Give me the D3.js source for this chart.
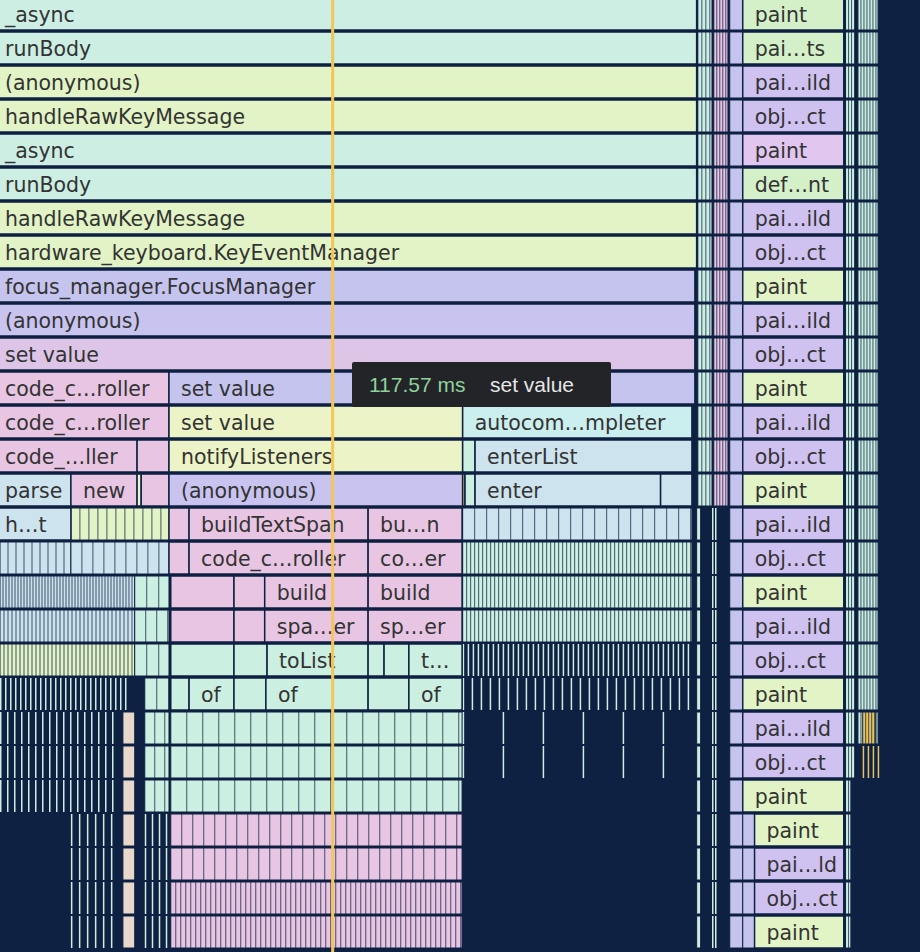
<!DOCTYPE html>
<html><head><meta charset="utf-8">
<script src="https://cdn.jsdelivr.net/npm/d3@7"></script>
<style>body{margin:0;background:#0f2142;overflow:hidden}</style>
</head><body><div id="canvas"></div>
<script>
// flame chart, times in ms, rows = stack depth
const rowCount = 28;
const visibleMs = [0, 155.7];
const cursorMs = 56.3;
const tooltipMs = 117.57;
const tooltipName = "set value";

const palette = {
  teal: "#cdeee3", ygreen: "#e2f3c5", lav: "#c9c4ef", lavb: "#c4c4ee", mauve: "#dcc5e6",
  pink: "#e8c6e3", yellow: "#ecf3c6", cyan: "#cbeeee", blue: "#cde3ee", mint: "#cbefe0",
  gold: "#e6c25e", green: "#d4f0c8", purple: "#cfc2f0", ppink: "#e1c6ef", peach: "#e8d8cc"
};

// [row, start, end, colour, label]
const boxes = [
  [0, -1.2, 117.9, "teal", "_async"],
  [1, -1.2, 117.9, "teal", "runBody"],
  [2, -1.2, 117.9, "ygreen", "(anonymous)"],
  [3, -1.2, 117.9, "ygreen", "handleRawKeyMessage"],
  [4, -1.2, 117.9, "teal", "_async"],
  [5, -1.2, 117.9, "teal", "runBody"],
  [6, -1.2, 117.9, "ygreen", "handleRawKeyMessage"],
  [7, -1.2, 117.9, "ygreen", "hardware_keyboard.KeyEventManager"],
  [8, -1.2, 117.6, "lavb", "focus_manager.FocusManager"],
  [9, -1.2, 117.6, "lav", "(anonymous)"],
  [10, -1.2, 117.6, "mauve", "set value"],
  [11, -1.2, 28.6, "pink", "code_c…roller"],
  [11, 28.6, 117.6, "lavb", "set value"],
  [12, -1.2, 28.6, "pink", "code_c…roller"],
  [12, 28.6, 78.3, "yellow", "set value"],
  [12, 78.3, 117.1, "cyan", "autocom…mpleter"],
  [13, -1.2, 23.2, "pink", "code_…ller"],
  [13, 23.2, 28.6, "pink", ""],
  [13, 28.6, 78.3, "yellow", "notifyListeners"],
  [13, 78.3, 80.4, "mint", ""],
  [13, 80.4, 117.1, "blue", "enterList"],
  [14, -1.2, 12.0, "blue", "parse"],
  [14, 12.0, 23.2, "pink", "new"],
  [14, 23.2, 23.9, "yellow", ""],
  [14, 23.9, 28.6, "pink", ""],
  [14, 28.6, 78.3, "lav", "(anonymous)"],
  [14, 78.3, 78.7, "gold", ""],
  [14, 78.7, 80.4, "mint", ""],
  [14, 80.4, 111.8, "blue", "enter"],
  [14, 111.8, 117.1, "blue", ""],
  [15, -1.2, 12.0, "blue", "h…t"],
  [15, 28.6, 32.0, "pink", ""],
  [15, 32.0, 62.3, "pink", "buildTextSpan"],
  [15, 62.3, 78.2, "pink", "bu…n"],
  [16, 28.6, 32.0, "pink", ""],
  [16, 32.0, 62.3, "pink", "code_c…roller"],
  [16, 62.3, 78.2, "pink", "co…er"],
  [17, 28.9, 39.6, "pink", ""],
  [17, 39.6, 44.8, "pink", ""],
  [17, 44.8, 62.3, "pink", "build"],
  [17, 62.3, 78.2, "pink", "build"],
  [18, 28.9, 39.6, "pink", ""],
  [18, 39.6, 44.8, "pink", ""],
  [18, 44.8, 62.3, "pink", "spa…er"],
  [18, 62.3, 78.2, "pink", "sp…er"],
  [19, 28.9, 39.6, "mint", ""],
  [19, 39.6, 45.2, "mint", ""],
  [19, 45.2, 62.3, "mint", "toList"],
  [19, 62.3, 65.0, "mint", ""],
  [19, 65.0, 69.2, "mint", ""],
  [19, 69.2, 78.2, "mint", "t…"],
  [20, 28.9, 32.0, "mint", ""],
  [20, 32.0, 39.6, "mint", "of"],
  [20, 39.6, 45.0, "mint", ""],
  [20, 45.0, 62.3, "mint", "of"],
  [20, 62.3, 69.2, "mint", ""],
  [20, 69.2, 78.2, "mint", "of"]
];

// right-hand column of paint frames
const paintLabels = ["paint", "pai…ts", "pai…ild", "obj…ct", "paint", "def…nt", "pai…ild", "obj…ct",
  "paint", "pai…ild", "obj…ct", "paint", "pai…ild", "obj…ct", "paint", "pai…ild", "obj…ct", "paint",
  "pai…ild", "obj…ct", "paint", "pai…ild", "obj…ct", "paint", "paint", "pai…ld", "obj…ct", "paint"];
const paintColours = ["green", "green", "purple", "purple", "ppink", "green", "purple", "purple",
  "ygreen", "purple", "purple", "ygreen", "purple", "purple", "ygreen", "purple", "purple", "ygreen",
  "purple", "purple", "ygreen", "purple", "purple", "ygreen", "ygreen", "purple", "purple", "ygreen"];
const paintStart = [125.7, 125.7, 125.7, 125.7, 125.7, 125.7, 125.7, 125.7, 125.7, 125.7, 125.7, 125.7,
  125.7, 125.7, 125.7, 125.7, 125.7, 125.7, 125.7, 125.7, 125.7, 125.7, 125.7, 125.7, 127.7, 127.7, 127.7, 127.7];
const paintEnd = 142.8;

// bands of tiny frames: [fromRow, toRow, start, end, colour, pitch px, dense]
const bands = [
  [15, 15, 12.0, 28.6, "ygreen", 9, true],
  [16, 16, 0, 12.0, "blue", 8, true],
  [16, 16, 12.0, 28.6, "blue", 11, true],
  [17, 17, 0, 22.8, "blue", 3, true],
  [17, 17, 22.8, 28.6, "mint", 12, true],
  [18, 18, 0, 22.8, "blue", 4, true],
  [18, 18, 22.8, 28.6, "mint", 11, true],
  [19, 19, 0, 22.8, "ygreen", 4, true],
  [19, 19, 22.8, 28.6, "mint", 12, true],
  [20, 20, 0, 22.0, "mint", 5, false],
  [20, 20, 24.5, 28.6, "mint", 12, true],
  [21, 23, 0, 20.0, "mint", 7, false],
  [21, 27, 20.8, 22.8, "peach", 12, true],
  [21, 23, 24.5, 28.6, "mint", 10, true],
  [24, 27, 12.0, 20.0, "mint", 8, false],
  [24, 27, 24.5, 28.6, "mint", 7, false],
  [21, 23, 28.9, 78.2, "mint", 16, true],
  [24, 25, 28.9, 78.2, "pink", 11, true],
  [26, 27, 28.9, 78.2, "pink", 5, true],
  [15, 15, 78.3, 117.1, "blue", 12, true],
  [16, 18, 78.3, 117.1, "mint", 4, true],
  [19, 19, 78.3, 117.1, "mint", 5, false],
  [20, 20, 78.3, 117.1, "mint", 9, false],
  [21, 22, 78.3, 117.1, "mint", 40, false],
  [0, 14, 118.1, 120.5, "teal", 4, true],
  [15, 27, 117.9, 118.6, "mint", 4, true],
  [0, 14, 120.8, 123.2, "pink", 3, true],
  [15, 27, 120.5, 121.2, "mint", 3, false],
  [0, 27, 123.5, 125.7, "lavb", 20, true],
  [24, 27, 125.7, 127.7, "lavb", 20, true],
  [0, 22, 143.1, 144.7, "mint", 3, true],
  [23, 27, 143.1, 144.0, "mint", 3, true],
  [0, 21, 145.2, 148.6, "mint", 3, true],
  [21, 21, 146.0, 148.2, "gold", 3, true],
  [22, 22, 146.0, 148.6, "gold", 5, false]
];

const width = 920, height = 952, rowH = 34, rowTop = -3;
const dark = "#0f2142";
const x = d3.scaleLinear().domain(visibleMs).range([0, width]);
const y = d3.scaleLinear().domain([0, rowCount]).range([rowTop, rowTop + rowCount * rowH]);

const svg = d3.select("#canvas").append("svg")
  .attr("width", width).attr("height", height)
  .style("font-family", "'DejaVu Sans', sans-serif");

svg.append("rect").attr("width", width).attr("height", height).attr("fill", dark);

// bands of small frames
const bandRows = bands.flatMap(b => d3.range(b[0], b[1] + 1).map(r => ({ row: r, b })));
const bg = svg.append("g");
bandRows.forEach(({ row, b }) => {
  const [, , s, e, col, pitch, dense] = b;
  const x0 = x(s), x1 = x(e);
  const yy = y(row) + 1, hh = rowH - 2;
  if (dense) {
    bg.append("rect").attr("x", x0).attr("y", yy).attr("width", x1 - x0).attr("height", hh)
      .attr("fill", palette[col]).attr("stroke", dark).attr("stroke-width", 1);
    bg.selectAll(null).data(d3.range(x0 + pitch, x1, pitch)).join("line")
      .attr("x1", d => d).attr("x2", d => d).attr("y1", yy).attr("y2", yy + hh)
      .attr("stroke", dark).attr("stroke-width", 1).attr("opacity", 0.75);
  } else {
    bg.selectAll(null).data(d3.range(x0, x1, pitch)).join("rect")
      .attr("x", d => d).attr("y", yy).attr("width", 1.5).attr("height", hh)
      .attr("fill", palette[col]);
  }
});

// named frames
const frames = boxes.map(([row, s, e, c, label]) => ({ row, s, e, c, label }))
  .concat(paintLabels.map((label, i) => ({ row: i, s: paintStart[i], e: paintEnd, c: paintColours[i], label })));

const fg = svg.append("g").selectAll("g").data(frames).join("g");
fg.append("rect")
  .attr("x", d => x(d.s)).attr("y", d => y(d.row) + 1)
  .attr("width", d => x(d.e) - x(d.s)).attr("height", rowH - 2)
  .attr("fill", d => palette[d.c]).attr("stroke", dark).attr("stroke-width", 1.5);
fg.append("text")
  .attr("x", d => Math.max(x(d.s), -7) + 12).attr("y", d => y(d.row) + rowH / 2 + 1)
  .attr("dy", "0.35em").attr("font-size", 20.5).attr("fill", "#333")
  .text(d => d.label);

// cursor
svg.append("line").attr("x1", x(cursorMs)).attr("x2", x(cursorMs)).attr("y1", 0).attr("y2", height)
  .attr("stroke", "#f3c657").attr("stroke-width", 3);

// tooltip
const tip = svg.append("g").attr("transform", "translate(352,362)");
tip.append("rect").attr("width", 259).attr("height", 45).attr("rx", 2).attr("fill", "#222428");
tip.append("text").attr("x", 17).attr("y", 23).attr("dy", "0.35em").attr("font-size", 21)
  .attr("font-family", "'Liberation Sans', sans-serif").attr("fill", "#8fd29b").text(`${tooltipMs} ms`);
tip.append("text").attr("x", 138).attr("y", 23).attr("dy", "0.35em").attr("font-size", 21)
  .attr("font-family", "'Liberation Sans', sans-serif").attr("fill", "#e6e6e6").text(tooltipName);
</script></body></html>
